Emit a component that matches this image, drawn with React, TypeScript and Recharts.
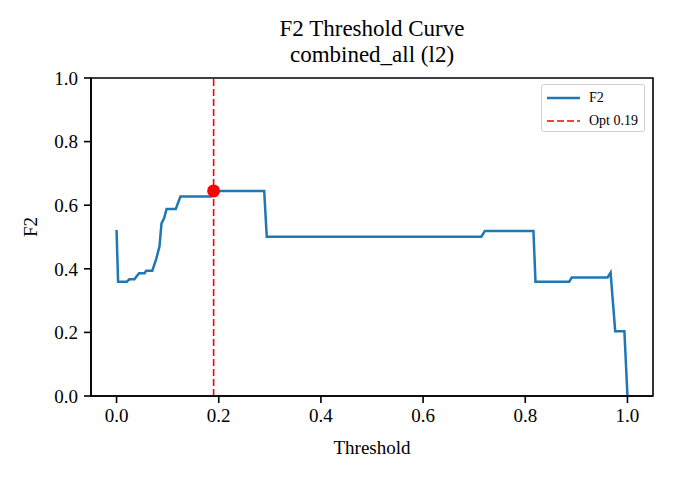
import {
  LineChart,
  Line,
  XAxis,
  YAxis,
  ReferenceLine,
  ReferenceDot,
  ReferenceArea,
} from "recharts";

const thresholds = [
  0, 0.003, 0.02, 0.025, 0.035, 0.044, 0.055, 0.058, 0.07, 0.078, 0.084, 0.088, 0.093,
  0.098, 0.116, 0.125, 0.185, 0.19, 0.289, 0.294, 0.714, 0.721, 0.816, 0.82, 0.886,
  0.891, 0.961, 0.967, 0.976, 0.994, 1.0,
];
const f2Scores = [
  0.522, 0.359, 0.359, 0.367, 0.367, 0.386, 0.386, 0.394, 0.394, 0.433, 0.47, 0.543, 0.559,
  0.588, 0.588, 0.627, 0.627, 0.645, 0.645, 0.501, 0.501, 0.519, 0.519, 0.359, 0.359,
  0.373, 0.373, 0.388, 0.204, 0.204, 0.0,
];
const optThreshold = 0.19;
const optScore = 0.645;
const xTicks = [0, 0.2, 0.4, 0.6, 0.8, 1.0];
const yTicks = [0, 0.2, 0.4, 0.6, 0.8, 1.0];

const data = thresholds.map((t, i) => ({ t, f2: f2Scores[i] }));

const FONT = '"Liberation Serif", "Times New Roman", serif';
const BLUE = "#1f77b4";

// legend box in the upper right corner of the axes
function LegendBox() {
  const row = { display: "flex", alignItems: "center", height: 23 };
  return (
    <div
      style={{
        position: "absolute",
        left: 541,
        top: 84,
        width: 104,
        height: 48,
        boxSizing: "border-box",
        border: "1px solid #d0d0d0",
        borderRadius: 3,
        background: "#fff",
        fontFamily: FONT,
        fontSize: 14,
        padding: "1px 0 0 5px",
        color: "#000",
      }}
    >
      <div style={row}>
        <svg width={33} height={4} style={{ marginRight: 9 }}>
          <line x1={0} y1={2} x2={33} y2={2} stroke={BLUE} strokeWidth={2.5} />
        </svg>
        F2
      </div>
      <div style={row}>
        <svg width={33} height={4} style={{ marginRight: 9 }}>
          <line x1={0} y1={2} x2={33} y2={2} stroke="red" strokeWidth={1.6} strokeDasharray="7 3" />
        </svg>
        Opt 0.19
      </div>
    </div>
  );
}

export default function App() {
  const axisTick = { fill: "#000", fontSize: 19, fontFamily: FONT };
  return (
    <div style={{ position: "fixed", left: 0, top: 0, width: 675, height: 480, background: "#fff" }}>
      <div
        style={{
          position: "absolute",
          left: 91,
          width: 562,
          top: 16,
          textAlign: "center",
          fontFamily: FONT,
          fontSize: 23,
          lineHeight: "26px",
          color: "#000",
        }}
      >
        F2 Threshold Curve
        <br />
        combined_all (l2)
      </div>
      <LineChart width={675} height={480} data={data} margin={{ top: 78, right: 22, bottom: 24, left: 0 }}>
        <XAxis
          dataKey="t"
          type="number"
          domain={[-0.05, 1.05]}
          ticks={xTicks}
          tickFormatter={(v) => Number(v).toFixed(1)}
          tick={axisTick}
          tickSize={7}
          tickMargin={6}
          stroke="#000"
          strokeWidth={1.6}
          height={60}
          label={{ value: "Threshold", position: "insideBottom", offset: 2, fill: "#000", fontSize: 19, fontFamily: FONT }}
        />
        <YAxis
          type="number"
          domain={[0, 1]}
          ticks={yTicks}
          tickFormatter={(v) => Number(v).toFixed(1)}
          tick={axisTick}
          tickSize={7}
          tickMargin={6}
          stroke="#000"
          strokeWidth={1.6}
          width={91}
          label={{ value: "F2", angle: -90, position: "insideLeft", offset: 30, fill: "#000", fontSize: 19, fontFamily: FONT }}
        />
        <ReferenceArea x1={-0.05} x2={1.05} y1={0} y2={1} fill="none" stroke="#000" strokeWidth={1.6} />
        <Line
          type="linear"
          dataKey="f2"
          stroke={BLUE}
          strokeWidth={2.5}
          dot={false}
          isAnimationActive={false}
        />
        <ReferenceLine x={optThreshold} stroke="red" strokeWidth={1.6} strokeDasharray="7 3" />
        <ReferenceDot x={optThreshold} y={optScore} r={6.5} fill="red" stroke="none" />
      </LineChart>
      <LegendBox />
    </div>
  );
}
